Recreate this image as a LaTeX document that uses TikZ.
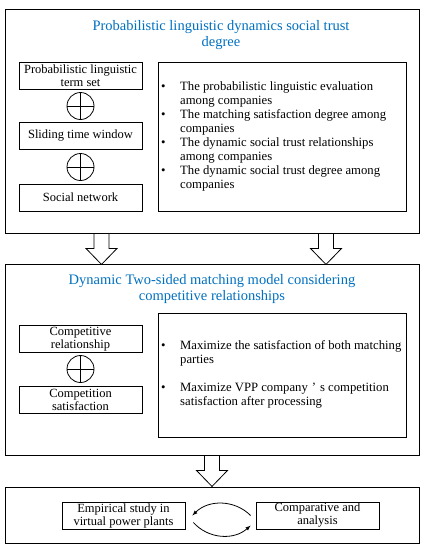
\documentclass[tikz,border=0pt]{standalone}
\usepackage{fontspec}
\setmainfont{Liberation Serif}
\usepackage{xcolor}
\usetikzlibrary{arrows, positioning}

\definecolor{titleblue}{RGB}{0,112,192}

\begin{document}
\begin{tikzpicture}[x=1pt, y=-1pt]
        \tikzset{
            frame/.style={draw, shape = rectangle, line width=0.9pt, minimum width=414pt},
            heading/.style={align=center, text=titleblue, font=\fontsize{14.5}{16}\selectfont},
            part/.style={draw, shape = rectangle, line width=0.8pt, minimum width=123pt, minimum height=27pt, inner sep=1pt, align=center, font=\fontsize{12.5}{13}\selectfont},
            listbox/.style={draw, shape = rectangle, line width=0.8pt, minimum width=248pt},
            items/.style={anchor=west, inner sep=0pt, font=\fontsize{12.7}{14}\selectfont},
            oplus/.style={draw, shape = circle, line width=0.8pt, minimum size=27pt, inner sep=0pt,
                path picture={\draw[line width=0.8pt] (path picture bounding box.north) -- (path picture bounding box.south)
                    (path picture bounding box.west) -- (path picture bounding box.east);}},
            fatarrow/.style={draw, line width=0.8pt, fill=white, line join=miter},
            cyc/.style={-latex, line width=0.8pt}
        }
        \useasboundingbox (0,0) rectangle (426,550);
        % trust degree
        \node[frame, minimum height=224pt] (trust) at (212,121) {};
        \node[heading] (trusttitle) at (221,35) {Probabilistic linguistic dynamics social trust\\degree};
        \node[part] (plts) at (80.5,75.5) {Probabilistic linguistic\\term set};
        \node[oplus] (op1) at (80.5,106) {};
        \node[part] (stw) at (80.5,136) {Sliding time window};
        \node[oplus] (op2) at (80.5,167) {};
        \node[part] (sn) at (80.5,197.5) {Social network};
        \node[listbox, minimum height=149pt] (trustlist) at (282,136.5) {};
        \node[items] (trustitems) at (161,137) {\begin{tabular}{@{}p{19pt}@{}l@{}}
            \textbullet & The probabilistic linguistic evaluation\\
                        & among companies\\
            \textbullet & The matching satisfaction degree among\\
                        & companies\\
            \textbullet & The dynamic social trust relationships\\
                        & among companies\\
            \textbullet & The dynamic social trust degree among\\
                        & companies
        \end{tabular}};
        % matching model
        \node[frame, minimum height=191pt] (match) at (212,359.5) {};
        \node[heading] (matchtitle) at (212,289) {Dynamic Two-sided matching model considering\\competitive relationships};
        \node[part] (comp) at (80.5,339) {Competitive\\relationship};
        \node[oplus] (op3) at (80.5,369) {};
        \node[part] (csat) at (80.5,399.5) {Competition\\satisfaction};
        \node[listbox, minimum height=124pt] (matchlist) at (282,375) {};
        \node[items] (matchitems) at (161,375) {\begin{tabular}{@{}p{19pt}@{}l@{}}
            \textbullet & Maximize the satisfaction of both matching\\
                        & parties\\[14pt]
            \textbullet & Maximize VPP company\kern4pt'\kern4pt s competition\\
                        & satisfaction after processing
        \end{tabular}};
        % empirical study
        \node[frame, minimum height=56pt] (study) at (212,515) {};
        \node[part] (emp) at (123.5,515.5) {Empirical study in\\virtual power plants};
        \node[part] (cmp) at (317.5,515.5) {Comparative and\\analysis};
        \draw[cyc] ([xshift=-5pt]cmp.west) to[bend right=45] ([xshift=7pt]emp.east);
        \draw[cyc] ([xshift=8pt,yshift=-7pt]emp.east) to[bend right=45] ([xshift=-5pt,yshift=-10pt]cmp.west);
        % hollow arrows between the stages
        \coordinate (arrL) at (trust.south -| 101.5,0);
        \coordinate (arrR) at (trust.south -| 326,0);
        \coordinate (arrM) at (match.south);
        \foreach \a in {arrL, arrR, arrM}
            \draw[fatarrow] (\a) ++(-7.5,0) -- ++(0,15) -- ++(-8,0) -- ++(15.5,16) -- ++(15.5,-16) -- ++(-8,0) -- ++(0,-15) -- cycle;
\end{tikzpicture}
\end{document}
